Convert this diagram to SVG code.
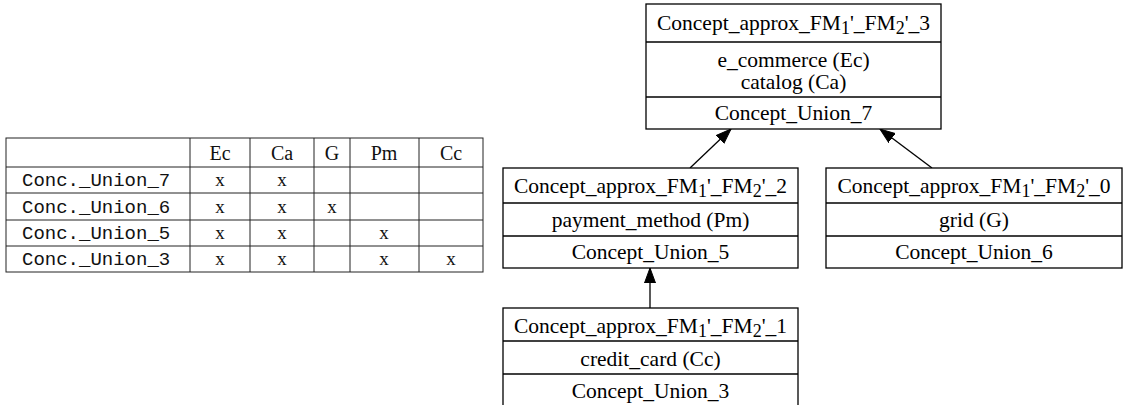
<svg xmlns="http://www.w3.org/2000/svg" width="1125" height="405" viewBox="0 0 1125 405">
<style>
.tbl{stroke:#222;stroke-width:1;fill:none}
.th{font-family:"Liberation Serif","DejaVu Serif",serif;font-size:20px;fill:#111;text-anchor:middle}
.tx{font-family:"Liberation Serif","DejaVu Serif",serif;font-size:19px;fill:#111;text-anchor:middle}
.tt{font-family:"Liberation Mono","DejaVu Sans Mono",monospace;font-size:19px;fill:#111}
.box{fill:#fff;stroke:#000;stroke-width:1.3}
.div{stroke:#000;stroke-width:1.3}
.lbl{font-family:"Liberation Serif","Times New Roman",serif;font-size:21.5px;fill:#000;text-anchor:middle}
.edge{stroke:#000;stroke-width:1.3;fill:none}
</style>
<defs>
<marker id="arr" markerUnits="userSpaceOnUse" markerWidth="20" markerHeight="14" refX="15" refY="6" orient="auto">
<path d="M0,0.5 L15,6 L0,11.5 Z" fill="#000" stroke="#000" stroke-width="1"/>
</marker>
</defs>
<g id="table">
<rect class="tbl" x="6" y="138" width="477" height="134"/>
<line class="tbl" x1="6" y1="167" x2="483" y2="167"/>
<line class="tbl" x1="6" y1="193" x2="483" y2="193"/>
<line class="tbl" x1="6" y1="220" x2="483" y2="220"/>
<line class="tbl" x1="6" y1="246" x2="483" y2="246"/>
<line class="tbl" x1="190" y1="138" x2="190" y2="272"/>
<line class="tbl" x1="250" y1="138" x2="250" y2="272"/>
<line class="tbl" x1="314" y1="138" x2="314" y2="272"/>
<line class="tbl" x1="350" y1="138" x2="350" y2="272"/>
<line class="tbl" x1="419" y1="138" x2="419" y2="272"/>
<text class="th" x="220" y="160">Ec</text>
<text class="th" x="282" y="160">Ca</text>
<text class="th" x="332" y="160">G</text>
<text class="th" x="384" y="160">Pm</text>
<text class="th" x="451" y="160">Cc</text>
<text class="tt" x="22" y="186">Conc._Union_7</text>
<text class="tt" x="22" y="213">Conc._Union_6</text>
<text class="tt" x="22" y="239">Conc._Union_5</text>
<text class="tt" x="22" y="265">Conc._Union_3</text>
<text class="tx" x="220" y="186">x</text><text class="tx" x="282" y="186">x</text>
<text class="tx" x="220" y="213">x</text><text class="tx" x="282" y="213">x</text><text class="tx" x="332" y="213">x</text>
<text class="tx" x="220" y="239">x</text><text class="tx" x="282" y="239">x</text><text class="tx" x="384" y="239">x</text>
<text class="tx" x="220" y="265">x</text><text class="tx" x="282" y="265">x</text><text class="tx" x="384" y="265">x</text><text class="tx" x="451" y="265">x</text>
</g>
<g id="edges">
<line class="edge" x1="690" y1="168" x2="731" y2="129" marker-end="url(#arr)"/>
<line class="edge" x1="932" y1="168" x2="880" y2="129" marker-end="url(#arr)"/>
<line class="edge" x1="650" y1="308" x2="650" y2="268" marker-end="url(#arr)"/>
</g>
<g id="node3">
<rect class="box" x="646" y="4" width="295" height="125"/>
<line class="div" x1="646" y1="42" x2="941" y2="42"/>
<line class="div" x1="646" y1="97" x2="941" y2="97"/>
<text class="lbl" x="793.5" y="30">Concept_approx_FM<tspan dy="4" font-size="18">1</tspan><tspan dy="-4">'_FM</tspan><tspan dy="4" font-size="18">2</tspan><tspan dy="-4">'_3</tspan></text>
<text class="lbl" x="793.5" y="67">e_commerce (Ec)</text>
<text class="lbl" x="793.5" y="89">catalog (Ca)</text>
<text class="lbl" x="793.5" y="120">Concept_Union_7</text>
</g>
<g id="node2">
<rect class="box" x="503" y="168" width="295" height="100"/>
<line class="div" x1="503" y1="203" x2="798" y2="203"/>
<line class="div" x1="503" y1="236" x2="798" y2="236"/>
<text class="lbl" x="650.5" y="193">Concept_approx_FM<tspan dy="4" font-size="18">1</tspan><tspan dy="-4">'_FM</tspan><tspan dy="4" font-size="18">2</tspan><tspan dy="-4">'_2</tspan></text>
<text class="lbl" x="650.5" y="227">payment_method (Pm)</text>
<text class="lbl" x="650.5" y="259">Concept_Union_5</text>
</g>
<g id="node0">
<rect class="box" x="826" y="168" width="296" height="100"/>
<line class="div" x1="826" y1="203" x2="1122" y2="203"/>
<line class="div" x1="826" y1="236" x2="1122" y2="236"/>
<text class="lbl" x="974" y="193">Concept_approx_FM<tspan dy="4" font-size="18">1</tspan><tspan dy="-4">'_FM</tspan><tspan dy="4" font-size="18">2</tspan><tspan dy="-4">'_0</tspan></text>
<text class="lbl" x="974" y="227">grid (G)</text>
<text class="lbl" x="974" y="259">Concept_Union_6</text>
</g>
<g id="node1">
<rect class="box" x="503" y="308" width="295" height="99"/>
<line class="div" x1="503" y1="341" x2="798" y2="341"/>
<line class="div" x1="503" y1="374" x2="798" y2="374"/>
<text class="lbl" x="650.5" y="333">Concept_approx_FM<tspan dy="4" font-size="18">1</tspan><tspan dy="-4">'_FM</tspan><tspan dy="4" font-size="18">2</tspan><tspan dy="-4">'_1</tspan></text>
<text class="lbl" x="650.5" y="366">credit_card (Cc)</text>
<text class="lbl" x="650.5" y="398">Concept_Union_3</text>
</g>
</svg>
